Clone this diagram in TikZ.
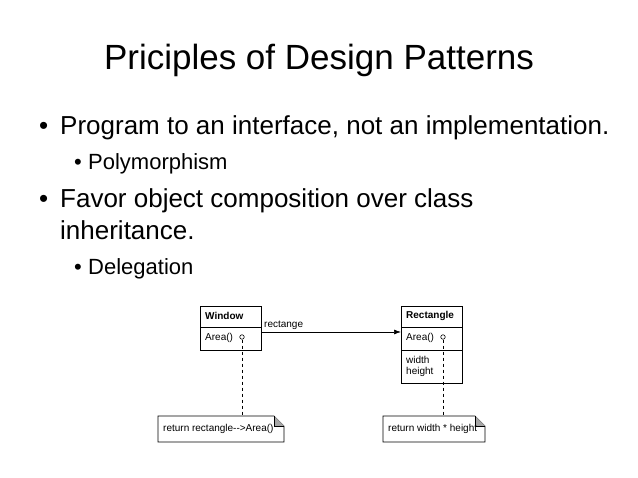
\documentclass[tikz,border=0pt]{standalone}
\usepackage{fontspec}
\setmainfont{Liberation Sans}
\usetikzlibrary{arrows.meta}
\begin{document}
\begin{tikzpicture}[x=1pt,y=-1pt,
  txt/.style={anchor=west,inner sep=0pt},
  big/.style={txt,font=\fontsize{26}{30}\selectfont},
  sub/.style={txt,font=\fontsize{22}{26}\selectfont},
  small/.style={font=\fontsize{10}{12}\selectfont,anchor=west,inner sep=0pt},
  box/.style={draw,line width=0.7pt}]
\useasboundingbox (0,0) rectangle (638,478);
\node[inner sep=0pt,font=\fontsize{35}{40}\selectfont] (title) at (319,60) {Priciples of Design Patterns};
\node[big] (d1) at (39,128) {•};
\node[big] (b1) at (60,128) {Program to an interface, not an implementation.};
\node[sub] (e1) at (74,164) {•};
\node[sub] (s1) at (88,164) {Polymorphism};
\node[big] (d2) at (39,201) {•};
\node[big] (b2) at (60,201) {Favor object composition over class};
\node[big] (b3) at (60,230) {inheritance.};
\node[sub] (e2) at (74,269) {•};
\node[sub] (s2) at (88,269) {Delegation};
% Window
\draw[box] (200,306) rectangle (261,350);
\draw[box] (200,327) -- (261,327);
\node[small,font=\fontsize{10}{12}\selectfont\bfseries] (wn) at (205,316) {Window};
\node[small] (wa) at (205,338) {Area()};
% Rectangle
\draw[box] (401,306) rectangle (462,383);
\draw[box] (401,327) -- (462,327);
\draw[box] (401,350) -- (462,350);
\node[small,font=\fontsize{10}{12}\selectfont\bfseries] (rn) at (406,316) {Rectangle};
\node[small] (ra) at (406,338) {Area()};
\node[small] (rw) at (406,360) {width};
\node[small] (rh) at (406,372) {height};
% association
\coordinate (as) at (261,332);
\coordinate (ae) at (401,332);
\draw[line width=0.7pt,-{Latex[length=7pt,width=5pt]}] (as) -- (ae);
\node[small] (lab) at (264,325) {rectange};
% circles and dashed lines
\node[draw,circle,inner sep=0pt,minimum size=4.5pt,line width=0.6pt] (c1) at (242,337) {};
\node[draw,circle,inner sep=0pt,minimum size=4.5pt,line width=0.6pt] (c2) at (443,337) {};
\coordinate (n1t) at (242,416);
\coordinate (n2t) at (443,416);
\draw[dashed,line width=0.6pt] (c1) -- (n1t);
\draw[dashed,line width=0.6pt] (c2) -- (n2t);
% notes
\draw[box] (158,416) -- (274,416) -- (284,426) -- (284,442) -- (158,442) -- cycle;
\fill[gray!70] (274,416) -- (284,426) -- (274,426) -- cycle;
\draw[line width=0.5pt] (274,416) -- (274,426) -- (284,426);
\node[small] (n1) at (163,429) {return rectangle-{}->Area()};
\draw[box] (383,416) -- (475,416) -- (485,426) -- (485,442) -- (383,442) -- cycle;
\fill[gray!70] (475,416) -- (485,426) -- (475,426) -- cycle;
\draw[line width=0.5pt] (475,416) -- (475,426) -- (485,426);
\node[small] (n2) at (388,429) {return width * height};
\end{tikzpicture}
\end{document}
